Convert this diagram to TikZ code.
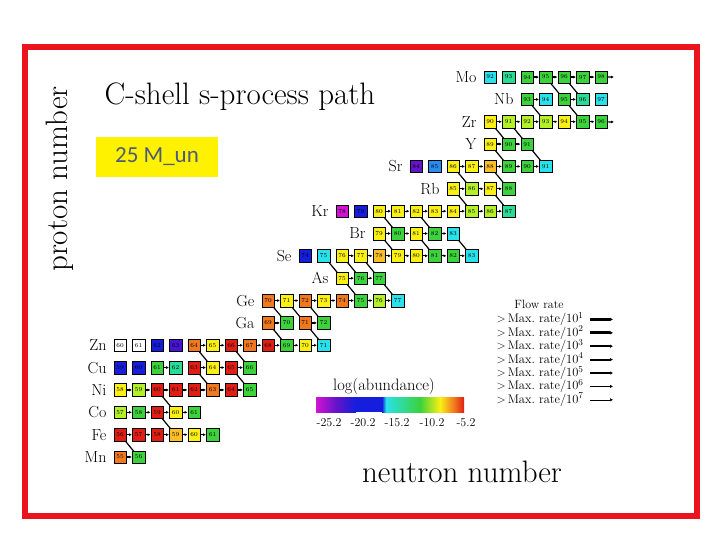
\documentclass[tikz,border=0pt]{standalone}
\usepackage{fontspec}
\newfontfamily\calib{Carlito}
\usetikzlibrary{backgrounds,arrows.meta}
\definecolor{cred}{RGB}{225,30,20}
\definecolor{corange}{RGB}{240,120,30}
\definecolor{cgold}{RGB}{250,190,40}
\definecolor{cyellow}{RGB}{250,240,20}
\definecolor{cyg}{RGB}{180,240,40}
\definecolor{cgreen}{RGB}{60,210,60}
\definecolor{cteal}{RGB}{40,220,150}
\definecolor{ccyan}{RGB}{40,225,235}
\definecolor{cblue}{RGB}{20,30,220}
\definecolor{cindigo}{RGB}{70,20,210}
\definecolor{cpurple}{RGB}{100,20,200}
\definecolor{cmag}{RGB}{210,20,210}
\definecolor{csky}{RGB}{40,140,240}
\definecolor{cwhite}{RGB}{255,255,255}
\definecolor{frame}{RGB}{235,20,30}
\definecolor{mtext}{RGB}{80,90,120}
\begin{document}
\begin{tikzpicture}[x=1pt,y=-1pt,
  iso/.style={draw=black,line width=0.5pt,minimum width=12.5pt,minimum height=12.5pt,inner sep=0pt,font=\fontsize{6}{6}\selectfont},
  elab/.style={font=\fontsize{16}{16}\selectfont,anchor=east},
  ncap/.style={-{Latex[length=3pt,width=3pt]},line width=1.2pt},
  dec/.style={line width=1.2pt},
  leg/.style={font=\fontsize{12.5}{12.5}\selectfont,anchor=west}]
\useasboundingbox (0,0) rectangle (720,540);
\draw[frame,line width=6pt] (25,47) rectangle (697,516);
\node[rotate=90,font=\fontsize{31}{31}\selectfont] (pn) at (60,179) {proton number};
\node[font=\fontsize{31}{31}\selectfont] (title) at (240,97) {C-shell s-process path};
\node[fill=yellow,minimum width=122pt,minimum height=40pt,text=mtext,font=\calib\fontsize{23}{23}\selectfont] (mass) at (157,157) {25 M\_un};
\node[font=\fontsize{31}{31}\selectfont] (nn) at (462,472) {neutron number};
\foreach \Z/\A/\el/\cols in {
 25/55/Mn/{corange,cgreen},
 26/56/Fe/{cred,cred,cred,cgold,cyellow,cgreen},
 27/57/Co/{cyg,cgreen,cred,cyellow,cgreen},
 28/58/Ni/{cyellow,cyg,cred,cred,cred,corange,cred,cgreen},
 29/59/Cu/{cblue,cblue,cgreen,cteal,cred,cyellow,cred,cgreen},
 30/60/Zn/{cwhite,cwhite,cblue,cindigo,corange,cyellow,cred,corange,cred,cgreen,cyellow,ccyan},
 31/69/Ga/{corange,cgreen,corange,cgreen},
 32/70/Ge/{corange,cyellow,corange,cyellow,corange,cgreen,cyg,ccyan},
 33/75/As/{cyellow,cgreen,cgreen},
 34/74/Se/{cblue,ccyan,cyellow,cyellow,cgold,cyellow,cyellow,cgreen,cgreen,ccyan},
 35/79/Br/{cyellow,cgreen,cyellow,cgreen,ccyan},
 36/78/Kr/{cmag,cblue,cyellow,cyellow,cyellow,cyellow,cyellow,cyg,cyg,cteal},
 37/85/Rb/{cyellow,cyg,cyellow,cgreen},
 38/84/Sr/{cpurple,csky,cyellow,cyellow,cgold,cgreen,cgreen,ccyan},
 39/89/Y/{cyellow,cgreen,cgreen},
 40/90/Zr/{cyellow,cyg,cyg,cyg,cyellow,cgreen,cgreen},
 41/93/Nb/{cgreen,ccyan,cgreen,cteal,ccyan},
 42/92/Mo/{ccyan,cteal,cgreen,cgreen,cgreen,cgreen,cgreen}}{
  \pgfmathsetmacro\yy{457-(\Z-25)*22.35}
  \foreach \c [count=\i from 0] in \cols {
    \pgfmathtruncatemacro\AA{\A+\i}
    \pgfmathsetmacro\xx{120+(\AA-\Z-30)*18.5}
    \node[iso,fill=\c] (n\Z-\AA) at (\xx,\yy) {\AA};
  }
  \pgfmathsetmacro\xl{120+(\A-\Z-30)*18.5-10}
  \node[elab] (e\Z) at (\xl,\yy) {\el};
}
\foreach \Z/\list in {25/{55},26/{56,57,58,59,60},27/{57,58,59,60},28/{58,59,60,61,62,63,64},
 29/{61,63,64,65},30/{64,65,66,67,68,69,70},31/{69,71},32/{70,71,72,73,74,75,76},33/{75,76},
 34/{76,77,78,79,80,81,82},35/{79,80,81,82},36/{80,81,82,83,84,85,86},37/{85,86,87},
 38/{86,87,88,89,90},39/{89,90},40/{90,91,92,93,94,95},41/{93,95},42/{94,95,96,97}}{
  \foreach \a in \list {
    \pgfmathtruncatemacro\b{\a+1}
    \draw[ncap] (n\Z-\a) -- (n\Z-\b);
  }
}
\coordinate (zrout) at (614,122);
\coordinate (moout) at (614,77);
\draw[ncap] (n40-96) -- (zrout);
\draw[ncap] (n42-98) -- (moout);
\begin{scope}[on background layer]
\foreach \Z/\a in {25/56,26/59,27/60,28/63,29/64,28/65,29/66,30/69,31/70,30/71,31/72,32/75,33/76,32/77,33/77,
 34/79,35/80,34/81,35/82,34/83,36/85,36/87,37/86,37/88,38/89,39/90,38/91,39/91,40/95,41/95,41/96,40/93,31/71,33/75} {
  \pgfmathtruncatemacro\ZZ{\Z+1}
  \draw[dec] (n\Z-\a.center) -- (n\ZZ-\a.center);
}
\end{scope}
\node[font=\fontsize{12}{12}\selectfont] (fr) at (539,304) {Flow rate};
\foreach \k/\w in {1/3.2,2/2.8,3/2.3,4/1.8,5/1.3,6/0.9,7/0.5}{
  \pgfmathsetmacro\yy{306+\k*13.4}
  \node[leg] (l\k) at (493,\yy) {$>$\,Max.\ rate/10$^{\k}$};
  \coordinate (la\k) at (590,\yy);
  \coordinate (lb\k) at (613,\yy);
  \draw[-{Latex[length=3pt,width=3.5pt]},line width=\w pt] (la\k) -- (lb\k);
}
\node[font=\fontsize{16.5}{16.5}\selectfont] (lab) at (384,386) {log(abundance)};
\shade[left color=cmag,right color=cpurple] (316,397) rectangle (336,412);
\shade[left color=cpurple,right color=cblue] (336,397) rectangle (356,412);
\fill[cblue] (356,397) rectangle (382,412);
\shade[left color=cblue,right color=ccyan] (382,397) rectangle (386,412);
\shade[left color=ccyan,right color=cgreen] (386,397) rectangle (420,412);
\shade[left color=cgreen,right color=cyellow] (420,397) rectangle (440,412);
\shade[left color=cyellow,right color=corange] (440,397) rectangle (454,412);
\shade[left color=corange,right color=cred] (454,397) rectangle (464,412);
\foreach \v/\x in {-25.2/329,-20.2/363,-15.2/397,-10.2/432,-5.2/466}
  \node[font=\fontsize{12}{12}\selectfont] at (\x,423) {\v};
\end{tikzpicture}
\end{document}
